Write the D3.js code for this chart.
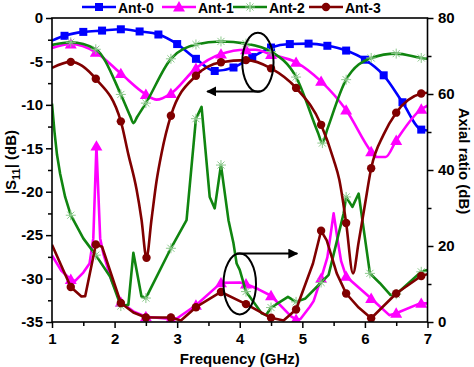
<!DOCTYPE html>
<html><head><meta charset="utf-8">
<script src="https://cdn.jsdelivr.net/npm/d3@7"></script>
<style>body{margin:0;background:#fff}svg{display:block}text{font-family:"Liberation Sans",Arial,sans-serif;font-weight:bold;fill:#000}</style>
</head><body>
<svg id="c" width="474" height="367"></svg>
<script>
// ---- axis ticks ----
const freqTicks = [1,2,3,4,5,6,7];
const freqMinor = [1.5,2.5,3.5,4.5,5.5,6.5];
const s11Ticks = [0,-5,-10,-15,-20,-25,-30,-35];
const s11Minor = [-2.5,-7.5,-12.5,-17.5,-22.5,-27.5,-32.5];
const arTicks = [0,20,40,60,80];
const arMinor = [10,30,50,70];
const seriesNames = ["Ant-0","Ant-1","Ant-2","Ant-3"];

// ---- |S11| (dB) : [freq GHz, dB, marker] ----
const ant0S11 = [[1.0,-2.6,0],[1.2,-2.05,1],[1.5,-1.6,1],[1.8,-1.45,1],[2.1,-1.3,1],[2.4,-1.55,1],[2.7,-1.9,1],[3.0,-3.0,1],[3.3,-4.7,1],[3.6,-6.1,1],[3.9,-5.7,1],[4.2,-4.5,1],[4.5,-3.4,1],[4.8,-3.0,1],[5.1,-2.95,1],[5.4,-3.2,1],[5.7,-3.75,1],[6.0,-4.8,1],[6.3,-6.6,1],[6.6,-9.7,1],[6.9,-12.85,1],[7.0,-12.95,0]];
const ant1S11 = [[1.0,-3.45,0],[1.3,-3.0,1],[1.7,-3.95,1],[2.1,-6.4,1],[2.5,-8.8,1],[2.67,-9.4,0],[2.9,-8.7,1],[3.3,-5.8,1],[3.7,-4.15,1],[4.1,-3.65,1],[4.25,-3.65,0],[4.5,-4.2,1],[4.9,-5.1,1],[5.3,-7.3,1],[5.7,-10.6,1],[6.1,-15.4,1],[6.17,-16.0,0],[6.33,-16.0,0],[6.5,-14.1,1],[6.9,-10.5,1],[7.0,-10.1,0]];
const ant2S11 = [[1.0,-3.1,0],[1.3,-2.8,1],[1.7,-3.6,1],[2.1,-8.8,1],[2.25,-11.3,0],[2.3,-12.1,0],[2.36,-11.4,0],[2.5,-9.8,1],[2.9,-4.7,1],[3.3,-3.05,1],[3.7,-2.7,1],[4.1,-2.95,1],[4.5,-3.85,1],[4.9,-6.8,1],[5.25,-13.2,0],[5.32,-14.4,1],[5.4,-12.8,0],[5.7,-7.1,1],[6.1,-4.6,1],[6.5,-4.1,1],[6.9,-4.6,1],[7.0,-4.7,0]];
const ant3S11 = [[1.0,-5.75,0],[1.3,-5.05,1],[1.7,-7.0,1],[2.1,-11.9,1],[2.22,-15.7,0],[2.35,-19.7,0],[2.43,-23.2,0],[2.51,-27.6,1],[2.59,-23.2,0],[2.67,-18.8,0],[2.75,-15.6,0],[2.9,-11.25,1],[3.3,-6.65,1],[3.7,-5.1,1],[4.1,-4.85,1],[4.5,-5.8,1],[4.9,-8.05,1],[5.3,-12.3,1],[5.5,-16.3,0],[5.59,-18.6,0],[5.7,-23.6,1],[5.81,-29.4,0],[5.9,-25.8,0],[6.0,-21.5,0],[6.1,-17.3,1],[6.3,-13.4,0],[6.5,-10.9,1],[6.9,-8.7,1],[7.0,-8.6,0]];

// ---- Axial ratio (dB) : [freq GHz, AR, marker] ----
const ant1AR = [[1.0,17.5,0],[1.15,13.5,0],[1.3,11.2,1],[1.37,10.8,0],[1.5,13.0,0],[1.6,15.4,0],[1.66,22,0],[1.71,46.3,1],[1.77,22,0],[1.82,18,0],[1.95,11,0],[2.1,5.2,1],[2.3,2.8,0],[2.5,1.4,1],[2.9,0.8,1],[3.0,1.0,0],[3.3,4.4,1],[3.7,10.3,1],[4.0,10.4,0],[4.1,10.0,1],[4.3,8.6,0],[4.5,6.9,1],[4.82,1.5,0],[4.9,0.7,1],[4.97,0.8,0],[5.12,4.0,0],[5.18,5.5,0],[5.3,11.5,1],[5.4,17,0],[5.5,28.6,0],[5.57,21,0],[5.62,16,0],[5.7,12.0,1],[6.1,6.2,1],[6.39,1.8,0],[6.5,2.3,1],[6.88,4.9,0],[6.9,4.9,1],[7.0,4.9,0]];
const ant2AR = [[1.0,57.5,0],[1.04,50,0],[1.08,44,0],[1.13,39,0],[1.21,32.9,0],[1.3,28.1,1],[1.5,22,0],[1.7,17.6,1],[1.93,11.9,0],[2.1,4.2,1],[2.22,4.5,0],[2.3,18.2,0],[2.43,6.7,0],[2.5,6.3,1],[2.9,19.4,1],[3.15,26.8,0],[3.3,53.5,1],[3.39,56.6,0],[3.52,32.9,0],[3.6,29.9,0],[3.7,41.3,1],[3.82,26.8,0],[3.9,20.7,0],[3.95,15.4,0],[4.0,13.7,0],[4.1,8.0,1],[4.35,2.3,0],[4.42,1.8,0],[4.5,3.8,1],[4.77,6.6,0],[4.9,5.3,1],[5.05,6.2,0],[5.3,10.4,1],[5.42,12.4,0],[5.66,28.6,0],[5.7,32.9,1],[5.8,30.3,0],[5.9,33.8,0],[6.08,12.8,1],[6.24,10.2,0],[6.41,7.1,0],[6.5,7.3,1],[6.9,13.2,1],[7.0,13.7,0]];
const ant3AR = [[1.0,20.3,0],[1.3,9.2,1],[1.47,6.7,0],[1.53,6.8,0],[1.7,20.4,1],[1.8,19.8,0],[2.1,5.0,1],[2.3,2.5,0],[2.5,1.2,1],[2.9,1.2,1],[3.06,0.4,0],[3.3,3.9,1],[3.7,7.9,1],[4.1,4.7,1],[4.5,1.1,1],[4.7,0.4,0],[4.9,3.3,1],[5.17,15.4,0],[5.3,24.0,1],[5.39,21.5,0],[5.55,12.8,0],[5.7,7.5,1],[5.9,3.8,0],[6.1,1.0,1],[6.5,7.5,1],[6.9,12.1,1],[7.0,12.6,0]];

// ---- layout ----
const L = 52, R = 427.5, T = 18, B = 322;
const x = d3.scaleLinear().domain([1,7]).range([L,R]);
const yL = d3.scaleLinear().domain([-35,0]).range([B,T]);
const yR = d3.scaleLinear().domain([0,80]).range([B,T]);

const svg = d3.select("#c");
const defs = svg.append("defs");
defs.append("clipPath").attr("id","clip")
  .append("rect").attr("x",L).attr("y",T).attr("width",R-L).attr("height",B-T);
defs.append("marker").attr("id","arr").attr("viewBox","0 0 10 10").attr("refX",9).attr("refY",5)
  .attr("markerWidth",5).attr("markerHeight",5).attr("orient","auto-start-reverse")
  .append("path").attr("d","M0,0L10,5L0,10z").attr("fill","#000");

const styles = [
  {color:"#0000ff", marker:"square"},
  {color:"#ff00ff", marker:"triangle"},
  {color:"#108510", marker:"star"},
  {color:"#800000", marker:"circle"}
];
const series = [
  {name:seriesNames[0], st:styles[0], curves:[{d:ant0S11,y:yL,c:d3.curveMonotoneX}]},
  {name:seriesNames[1], st:styles[1], curves:[{d:ant1S11,y:yL,c:d3.curveMonotoneX},{d:ant1AR,y:yR,c:d3.curveLinear}]},
  {name:seriesNames[2], st:styles[2], curves:[{d:ant2S11,y:yL,c:d3.curveMonotoneX},{d:ant2AR,y:yR,c:d3.curveLinear}]},
  {name:seriesNames[3], st:styles[3], curves:[{d:ant3S11,y:yL,c:d3.curveMonotoneX},{d:ant3AR,y:yR,c:d3.curveLinear}]}
];

function drawMarker(g, type, cx, cy, color){
  if(type==="square"){
    g.append("rect").attr("x",cx-4).attr("y",cy-4).attr("width",8).attr("height",8).attr("fill",color);
  } else if(type==="circle"){
    g.append("circle").attr("cx",cx).attr("cy",cy).attr("r",4.2).attr("fill",color);
  } else if(type==="triangle"){
    g.append("path").attr("d",d3.symbol(d3.symbolTriangle,62)()).attr("transform",`translate(${cx},${cy+1})`).attr("fill",color);
  } else if(type==="star"){
    const s = 5;
    [0,45,90,135].forEach(a=>{
      const r = a*Math.PI/180;
      g.append("line").attr("x1",cx-s*Math.cos(r)).attr("y1",cy-s*Math.sin(r))
        .attr("x2",cx+s*Math.cos(r)).attr("y2",cy+s*Math.sin(r))
        .attr("stroke","#8cc88c").attr("stroke-width",1);
    });
  }
}

const plot = svg.append("g").attr("clip-path","url(#clip)");
series.forEach(s=>{
  s.curves.forEach(cv=>{
    const line = d3.line().x(d=>x(d[0])).y(d=>cv.y(d[1])).curve(cv.c);
    plot.append("path").datum(cv.d).attr("d",line).attr("fill","none")
      .attr("stroke",s.st.color).attr("stroke-width",2.6).attr("stroke-linejoin","round");
    const mg = plot.append("g");
    cv.d.filter(d=>d[2]).forEach(d=>drawMarker(mg, s.st.marker, x(d[0]), cv.y(d[1]), s.st.color));
  });
});

// ---- frame & axes ----
svg.append("rect").attr("x",L).attr("y",T).attr("width",R-L).attr("height",B-T)
  .attr("fill","none").attr("stroke","#000").attr("stroke-width",1.6);

function styleAxis(g){
  g.select(".domain").remove();
  g.selectAll("line").attr("stroke","#000").attr("stroke-width",1.5);
  g.selectAll("text").style("font-size","15px").style("font-weight","bold")
    .style("font-family","'Liberation Sans',Arial,sans-serif");
}
const fmt = d3.format("d");
styleAxis(svg.append("g").attr("transform",`translate(0,${B})`)
  .call(d3.axisBottom(x).tickValues(freqTicks).tickFormat(fmt).tickSize(6).tickPadding(5.5)));
styleAxis(svg.append("g").attr("transform",`translate(0,${B})`)
  .call(d3.axisBottom(x).tickValues(freqMinor).tickFormat("").tickSize(4)));
styleAxis(svg.append("g").attr("transform",`translate(${L},0)`)
  .call(d3.axisLeft(yL).tickValues(s11Ticks).tickFormat(d=>d===0?"0":"-"+Math.abs(d)).tickSize(6).tickPadding(3)));
styleAxis(svg.append("g").attr("transform",`translate(${L},0)`)
  .call(d3.axisLeft(yL).tickValues(s11Minor).tickFormat("").tickSize(4)));
styleAxis(svg.append("g").attr("transform",`translate(${R},0)`)
  .call(d3.axisRight(yR).tickValues(arTicks).tickFormat(fmt).tickSize(6).tickPadding(4.5)));
styleAxis(svg.append("g").attr("transform",`translate(${R},0)`)
  .call(d3.axisRight(yR).tickValues(arMinor).tickFormat("").tickSize(4)));

// ---- axis titles ----
svg.append("text").attr("x",(L+R)/2).attr("y",364).attr("text-anchor","middle")
  .style("font-size","15px").text("Frequency (GHz)");
const lt = svg.append("text").attr("transform","translate(16,162) rotate(-90)").attr("text-anchor","middle")
  .style("font-size","15px");
lt.append("tspan").text("|S");
lt.append("tspan").attr("dy",4).style("font-size","11px").text("11");
lt.append("tspan").attr("dy",-4).text("| (dB)");
svg.append("text").attr("transform","translate(459,161) rotate(90)").attr("text-anchor","middle")
  .style("font-size","15px").text("Axial ratio (dB)");

// ---- legend ----
const legLineX = [82,162,233,309];
const legLen = 34;
const legY = 7;
series.forEach((s,i)=>{
  const g = svg.append("g");
  g.append("line").attr("x1",legLineX[i]).attr("x2",legLineX[i]+legLen).attr("y1",legY).attr("y2",legY)
    .attr("stroke",s.st.color).attr("stroke-width",2.6);
  drawMarker(g, s.st.marker, legLineX[i]+legLen/2, legY, s.st.color);
  g.append("text").attr("x",legLineX[i]+legLen+2).attr("y",12.5).style("font-size","14px").text(s.name);
});

// ---- annotations (ellipses + arrows), placed in data coordinates ----
const ann1 = {f:4.29, v:-5.1, rf:0.25, rv:3.4};   // S11 group -> left axis
const ann2 = {f:4.0, v:10.0, rf:0.26, rv:8.0};    // AR group -> right axis
svg.append("ellipse").attr("cx",x(ann1.f)).attr("cy",yL(ann1.v))
  .attr("rx",x(ann1.f+ann1.rf)-x(ann1.f)).attr("ry",yL(ann1.v-ann1.rv)-yL(ann1.v))
  .attr("fill","none").attr("stroke","#000").attr("stroke-width",2);
svg.append("line").attr("x1",x(4.33)).attr("x2",x(3.48)).attr("y1",yL(-8.45)).attr("y2",yL(-8.45))
  .attr("stroke","#000").attr("stroke-width",2).attr("marker-end","url(#arr)");
svg.append("ellipse").attr("cx",x(ann2.f)).attr("cy",yR(ann2.v))
  .attr("rx",x(ann2.f+ann2.rf)-x(ann2.f)).attr("ry",yR(ann2.v-ann2.rv)-yR(ann2.v))
  .attr("fill","none").attr("stroke","#000").attr("stroke-width",2);
svg.append("line").attr("x1",x(3.95)).attr("x2",x(4.92)).attr("y1",yR(18)).attr("y2",yR(18))
  .attr("stroke","#000").attr("stroke-width",2).attr("marker-end","url(#arr)");
</script>
</body></html>
